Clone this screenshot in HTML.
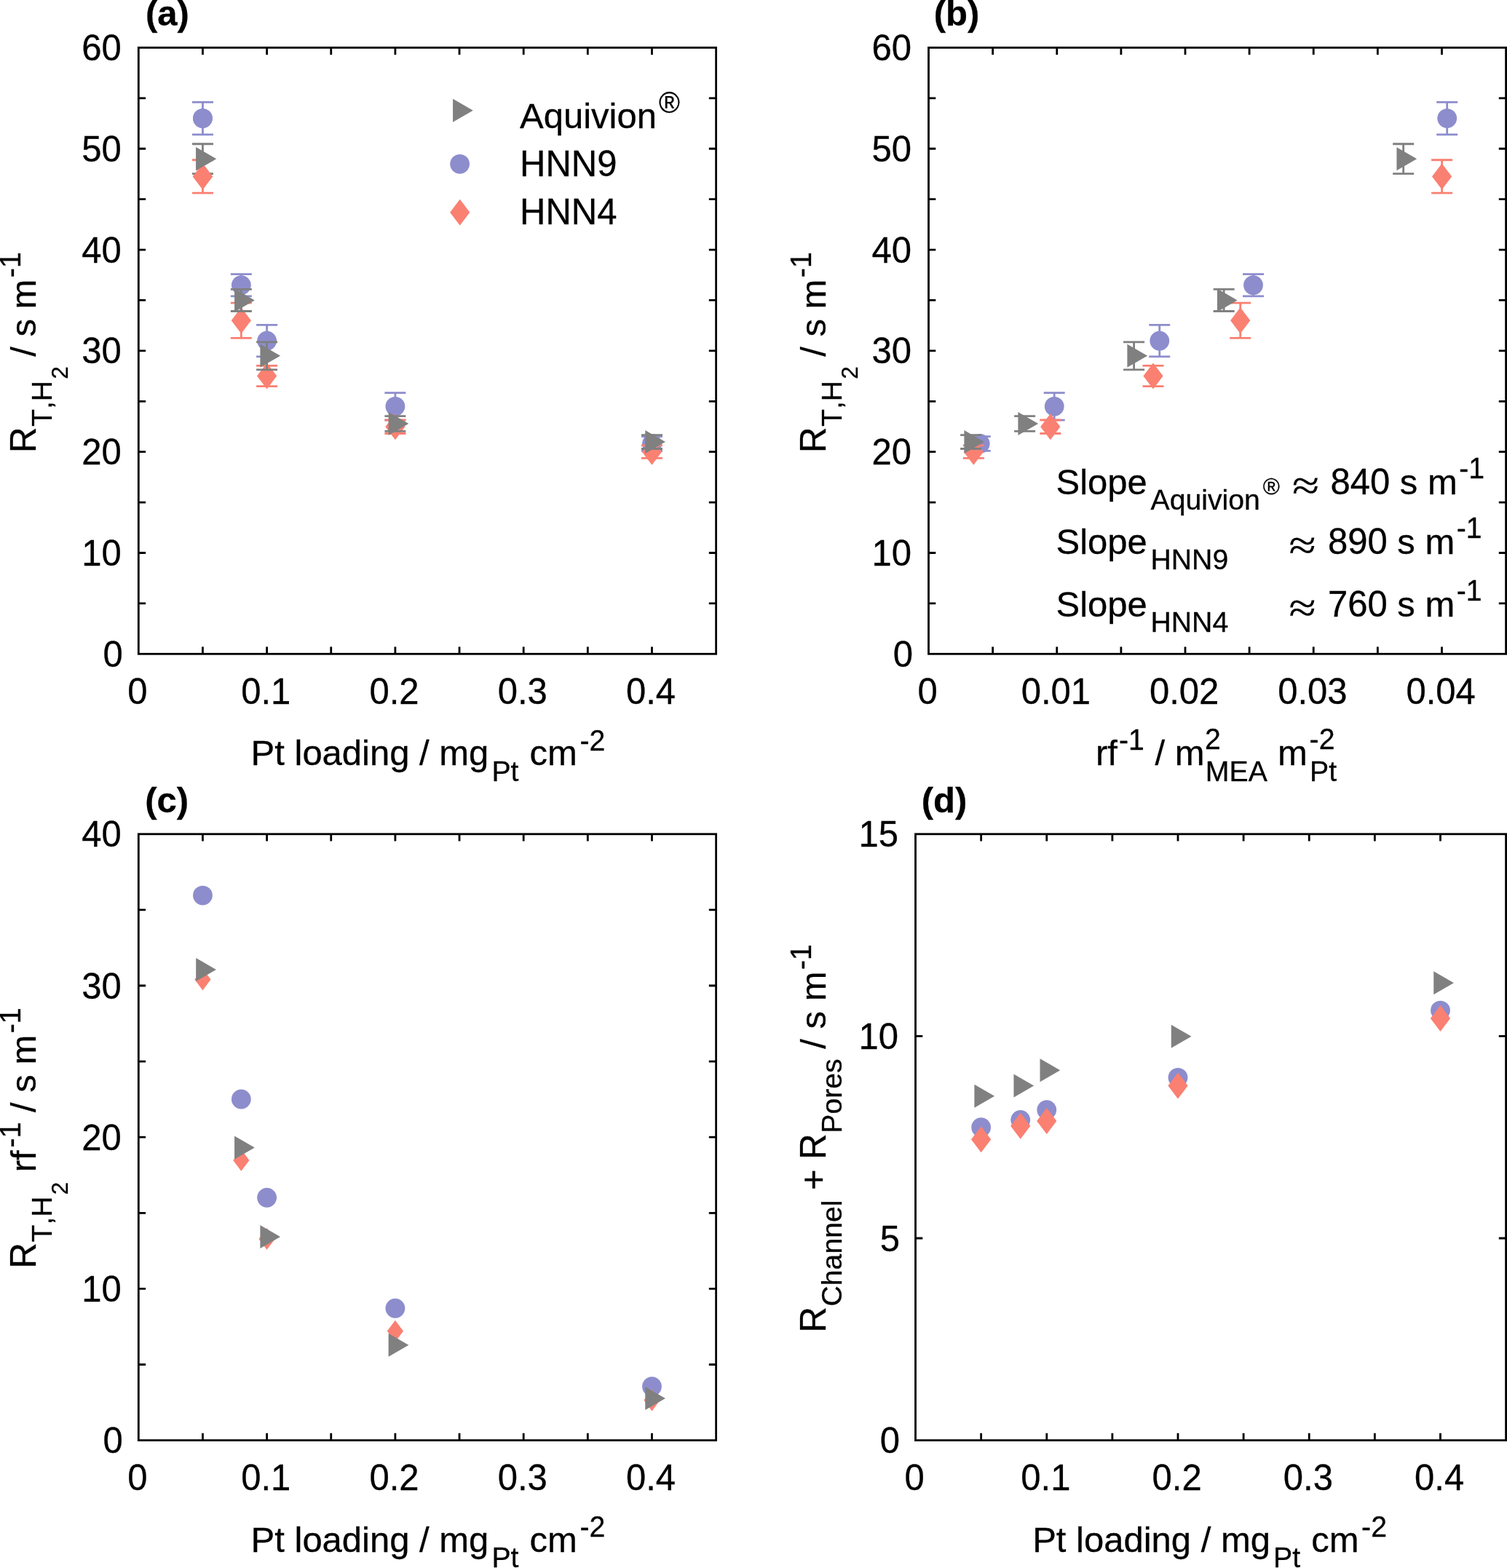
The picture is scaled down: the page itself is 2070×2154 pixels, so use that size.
<!DOCTYPE html>
<html lang="en">
<head>
<meta charset="utf-8">
<title>Figure</title>
<style>
html,body{margin:0;padding:0;background:#fff;}
body{width:2070px;height:2154px;overflow:hidden;}
svg{display:block;}
text{white-space:pre;font-kerning:none;stroke:#000;stroke-width:0.3px;}
</style>
</head>
<body>
<svg width="2070" height="2154" viewBox="0 0 2070 2154" font-family='"Liberation Sans", sans-serif' fill="#000">
<rect width="2070" height="2154" fill="#fff"/>
<g id="panel-a">
<path d="M278.44 898.3V888.5M278.44 65.45V75.25M366.59 898.3V888.5M366.59 65.45V75.25M454.73 898.3V888.5M454.73 65.45V75.25M542.88 898.3V888.5M542.88 65.45V75.25M631.02 898.3V888.5M631.02 65.45V75.25M719.17 898.3V888.5M719.17 65.45V75.25M807.31 898.3V888.5M807.31 65.45V75.25M895.46 898.3V888.5M895.46 65.45V75.25M190.3 828.9H200.1M983.6 828.9H973.8M190.3 759.49H200.1M983.6 759.49H973.8M190.3 690.09H200.1M983.6 690.09H973.8M190.3 620.68H200.1M983.6 620.68H973.8M190.3 551.28H200.1M983.6 551.28H973.8M190.3 481.88H200.1M983.6 481.88H973.8M190.3 412.47H200.1M983.6 412.47H973.8M190.3 343.07H200.1M983.6 343.07H973.8M190.3 273.66H200.1M983.6 273.66H973.8M190.3 204.26H200.1M983.6 204.26H973.8M190.3 134.85H200.1M983.6 134.85H973.8" stroke="#000" stroke-width="2.8" fill="none"/>
<rect x="190.3" y="65.45" width="793.3" height="832.85" stroke="#000" stroke-width="2.8" fill="none"/>
<path d="M278.44 140.35V184.85M263.94 140.35H292.94M263.94 184.85H292.94" stroke="#8d8dcd" stroke-width="2.8" fill="none"/>
<circle cx="278.44" cy="162.6" r="13.4" fill="#8d8dcd"/>
<path d="M278.44 219.75V265.05M263.94 219.75H292.94M263.94 265.05H292.94" stroke="#fa8072" stroke-width="2.8" fill="none"/>
<path d="M278.44 224.4L292.04 242.4L278.44 260.4L264.84 242.4Z" fill="#fa8072"/>
<path d="M278.44 197.75V238.65M263.94 197.75H292.94M263.94 238.65H292.94" stroke="#808080" stroke-width="2.8" fill="none"/>
<path d="M269.21 202.2L296.92 218.2L269.21 234.2Z" fill="#808080"/>
<path d="M331.33 376.6V406.8M316.83 376.6H345.83M316.83 406.8H345.83" stroke="#8d8dcd" stroke-width="2.8" fill="none"/>
<circle cx="331.33" cy="391.7" r="13.4" fill="#8d8dcd"/>
<path d="M331.33 416.05V464.45M316.83 416.05H345.83M316.83 464.45H345.83" stroke="#fa8072" stroke-width="2.8" fill="none"/>
<path d="M331.33 422.25L344.93 440.25L331.33 458.25L317.73 440.25Z" fill="#fa8072"/>
<path d="M331.33 397.3V427.5M316.83 397.3H345.83M316.83 427.5H345.83" stroke="#808080" stroke-width="2.8" fill="none"/>
<path d="M322.09 396.4L349.81 412.4L322.09 428.4Z" fill="#808080"/>
<path d="M366.59 446.4V489.9M352.09 446.4H381.09M352.09 489.9H381.09" stroke="#8d8dcd" stroke-width="2.8" fill="none"/>
<circle cx="366.59" cy="468.15" r="13.4" fill="#8d8dcd"/>
<path d="M366.59 502.4V530.7M352.09 502.4H381.09M352.09 530.7H381.09" stroke="#fa8072" stroke-width="2.8" fill="none"/>
<path d="M366.59 498.55L380.19 516.55L366.59 534.55L352.99 516.55Z" fill="#fa8072"/>
<path d="M366.59 469.8V507.8M352.09 469.8H381.09M352.09 507.8H381.09" stroke="#808080" stroke-width="2.8" fill="none"/>
<path d="M357.35 472.8L385.06 488.8L357.35 504.8Z" fill="#808080"/>
<path d="M542.88 539.6V577.1M528.38 539.6H557.38M528.38 577.1H557.38" stroke="#8d8dcd" stroke-width="2.8" fill="none"/>
<circle cx="542.88" cy="558.35" r="13.4" fill="#8d8dcd"/>
<path d="M542.88 577V595.5M528.38 577H557.38M528.38 595.5H557.38" stroke="#fa8072" stroke-width="2.8" fill="none"/>
<path d="M542.88 568.25L556.48 586.25L542.88 604.25L529.28 586.25Z" fill="#fa8072"/>
<path d="M542.88 571.6V592.4M528.38 571.6H557.38M528.38 592.4H557.38" stroke="#808080" stroke-width="2.8" fill="none"/>
<path d="M533.64 566L561.35 582L533.64 598Z" fill="#808080"/>
<path d="M895.46 599.6V619.4M880.96 599.6H909.96M880.96 619.4H909.96" stroke="#8d8dcd" stroke-width="2.8" fill="none"/>
<circle cx="895.46" cy="609.5" r="13.4" fill="#8d8dcd"/>
<path d="M895.46 611.9V629.4M880.96 611.9H909.96M880.96 629.4H909.96" stroke="#fa8072" stroke-width="2.8" fill="none"/>
<path d="M895.46 602.65L909.06 620.65L895.46 638.65L881.86 620.65Z" fill="#fa8072"/>
<path d="M895.46 597.6V616.5M880.96 597.6H909.96M880.96 616.5H909.96" stroke="#808080" stroke-width="2.8" fill="none"/>
<path d="M886.22 591.05L913.93 607.05L886.22 623.05Z" fill="#808080"/>
<circle cx="278.44" cy="162.6" r="13.4" fill="#8d8dcd"/>
<path d="M278.44 224.4L292.04 242.4L278.44 260.4L264.84 242.4Z" fill="#fa8072"/>
<path d="M269.21 202.2L296.92 218.2L269.21 234.2Z" fill="#808080"/>
<text transform="translate(188.9,967.1) scale(1,1.02)" font-size="49" text-anchor="middle">0</text>
<text transform="translate(365.19,967.1) scale(1,1.02)" font-size="49" text-anchor="middle">0.1</text>
<text transform="translate(541.48,967.1) scale(1,1.02)" font-size="49" text-anchor="middle">0.2</text>
<text transform="translate(717.77,967.1) scale(1,1.02)" font-size="49" text-anchor="middle">0.3</text>
<text transform="translate(894.06,967.1) scale(1,1.02)" font-size="49" text-anchor="middle">0.4</text>
<text transform="translate(168.8,915.8) scale(1,1.02)" font-size="49" text-anchor="end">0</text>
<text transform="translate(166.8,776.99) scale(1,1.02)" font-size="49" text-anchor="end">10</text>
<text transform="translate(166.8,638.18) scale(1,1.02)" font-size="49" text-anchor="end">20</text>
<text transform="translate(166.8,499.38) scale(1,1.02)" font-size="49" text-anchor="end">30</text>
<text transform="translate(166.8,360.57) scale(1,1.02)" font-size="49" text-anchor="end">40</text>
<text transform="translate(166.8,221.76) scale(1,1.02)" font-size="49" text-anchor="end">50</text>
<text transform="translate(166.8,82.95) scale(1,1.02)" font-size="49" text-anchor="end">60</text>
<text transform="translate(199.9,35) scale(1,1)" font-size="49" font-weight="bold">(a)</text>
<path d="M622.06 135.8L649.78 151.8L622.06 167.8Z" fill="#808080"/>
<circle cx="631.6" cy="225.35" r="13.4" fill="#8d8dcd"/>
<path d="M631.7 273.75L645.3 291.75L631.7 309.75L618.1 291.75Z" fill="#fa8072"/>
<g><text transform="translate(714,175.6) scale(1,0.98)" font-size="49">Aquivion</text><text transform="translate(904.96,155.1) scale(1,1.02)" font-size="39.2">®</text></g>
<text transform="translate(714,241.8) scale(1,1.012)" font-size="49">HNN9</text>
<text transform="translate(714,308.3) scale(1,1.012)" font-size="49">HNN4</text>
<g><text transform="translate(344.6,1051.3) scale(1,0.98)" font-size="49">Pt loading / mg</text><text transform="translate(675.45,1072.6) scale(1,1)" font-size="39.2">Pt</text><text transform="translate(713.99,1051.3) scale(1,0.97)" font-size="49"> cm</text><text transform="translate(796.52,1030.6) scale(1,1.02)" font-size="39.2">-2</text></g>
<g transform="translate(48.75,622) rotate(-90)"><text transform="translate(0,0) scale(1,1.012)" font-size="49">R</text><text transform="translate(35.99,22) scale(1,1.012)" font-size="39.2">T,H</text><text transform="translate(101.13,43.8) scale(1,1.02)" font-size="31.36">2</text><text transform="translate(118.57,0) scale(1,0.97)" font-size="49"> / s m</text><text transform="translate(240.84,-20.5) scale(1,1.02)" font-size="39.2">-1</text></g>
</g>
<g id="panel-b">
<path d="M1363.62 898.3V888.5M1363.62 65.45V75.25M1451.74 898.3V888.5M1451.74 65.45V75.25M1539.87 898.3V888.5M1539.87 65.45V75.25M1627.99 898.3V888.5M1627.99 65.45V75.25M1716.11 898.3V888.5M1716.11 65.45V75.25M1804.23 898.3V888.5M1804.23 65.45V75.25M1892.36 898.3V888.5M1892.36 65.45V75.25M1980.48 898.3V888.5M1980.48 65.45V75.25M1275.5 828.9H1285.3M2068.6 828.9H2058.8M1275.5 759.49H1285.3M2068.6 759.49H2058.8M1275.5 690.09H1285.3M2068.6 690.09H2058.8M1275.5 620.68H1285.3M2068.6 620.68H2058.8M1275.5 551.28H1285.3M2068.6 551.28H2058.8M1275.5 481.88H1285.3M2068.6 481.88H2058.8M1275.5 412.47H1285.3M2068.6 412.47H2058.8M1275.5 343.07H1285.3M2068.6 343.07H2058.8M1275.5 273.66H1285.3M2068.6 273.66H2058.8M1275.5 204.26H1285.3M2068.6 204.26H2058.8M1275.5 134.85H1285.3M2068.6 134.85H2058.8" stroke="#000" stroke-width="2.8" fill="none"/>
<rect x="1275.5" y="65.45" width="793.1" height="832.85" stroke="#000" stroke-width="2.8" fill="none"/>
<path d="M1987.7 140.35V184.85M1973.2 140.35H2002.2M1973.2 184.85H2002.2" stroke="#8d8dcd" stroke-width="2.8" fill="none"/>
<circle cx="1987.7" cy="162.6" r="13.4" fill="#8d8dcd"/>
<path d="M1980.6 219.75V265.05M1966.1 219.75H1995.1M1966.1 265.05H1995.1" stroke="#fa8072" stroke-width="2.8" fill="none"/>
<path d="M1980.6 224.4L1994.2 242.4L1980.6 260.4L1967 242.4Z" fill="#fa8072"/>
<path d="M1927.67 197.75V238.65M1913.17 197.75H1942.17M1913.17 238.65H1942.17" stroke="#808080" stroke-width="2.8" fill="none"/>
<path d="M1918.43 202.2L1946.15 218.2L1918.43 234.2Z" fill="#808080"/>
<path d="M1721.5 376.6V406.8M1707 376.6H1736M1707 406.8H1736" stroke="#8d8dcd" stroke-width="2.8" fill="none"/>
<circle cx="1721.5" cy="391.7" r="13.4" fill="#8d8dcd"/>
<path d="M1703.7 416.05V464.45M1689.2 416.05H1718.2M1689.2 464.45H1718.2" stroke="#fa8072" stroke-width="2.8" fill="none"/>
<path d="M1703.7 422.25L1717.3 440.25L1703.7 458.25L1690.1 440.25Z" fill="#fa8072"/>
<path d="M1681.15 397.3V427.5M1666.65 397.3H1695.65M1666.65 427.5H1695.65" stroke="#808080" stroke-width="2.8" fill="none"/>
<path d="M1671.91 396.4L1699.63 412.4L1671.91 428.4Z" fill="#808080"/>
<path d="M1592.75 446.4V489.9M1578.25 446.4H1607.25M1578.25 489.9H1607.25" stroke="#8d8dcd" stroke-width="2.8" fill="none"/>
<circle cx="1592.75" cy="468.15" r="13.4" fill="#8d8dcd"/>
<path d="M1584 502.4V530.7M1569.5 502.4H1598.5M1569.5 530.7H1598.5" stroke="#fa8072" stroke-width="2.8" fill="none"/>
<path d="M1584 498.55L1597.6 516.55L1584 534.55L1570.4 516.55Z" fill="#fa8072"/>
<path d="M1557.6 469.8V507.8M1543.1 469.8H1572.1M1543.1 507.8H1572.1" stroke="#808080" stroke-width="2.8" fill="none"/>
<path d="M1548.36 472.8L1576.08 488.8L1548.36 504.8Z" fill="#808080"/>
<path d="M1448.2 539.6V577.1M1433.7 539.6H1462.7M1433.7 577.1H1462.7" stroke="#8d8dcd" stroke-width="2.8" fill="none"/>
<circle cx="1448.2" cy="558.35" r="13.4" fill="#8d8dcd"/>
<path d="M1442.8 577V595.5M1428.3 577H1457.3M1428.3 595.5H1457.3" stroke="#fa8072" stroke-width="2.8" fill="none"/>
<path d="M1442.8 568.25L1456.4 586.25L1442.8 604.25L1429.2 586.25Z" fill="#fa8072"/>
<path d="M1407.6 571.6V592.4M1393.1 571.6H1422.1M1393.1 592.4H1422.1" stroke="#808080" stroke-width="2.8" fill="none"/>
<path d="M1398.36 566L1426.08 582L1398.36 598Z" fill="#808080"/>
<path d="M1346.2 599.6V619.4M1331.7 599.6H1360.7M1331.7 619.4H1360.7" stroke="#8d8dcd" stroke-width="2.8" fill="none"/>
<circle cx="1346.2" cy="609.5" r="13.4" fill="#8d8dcd"/>
<path d="M1337.3 611.9V629.4M1322.8 611.9H1351.8M1322.8 629.4H1351.8" stroke="#fa8072" stroke-width="2.8" fill="none"/>
<path d="M1337.3 602.65L1350.9 620.65L1337.3 638.65L1323.7 620.65Z" fill="#fa8072"/>
<path d="M1333.6 597.6V616.5M1319.1 597.6H1348.1M1319.1 616.5H1348.1" stroke="#808080" stroke-width="2.8" fill="none"/>
<path d="M1324.36 591.05L1352.08 607.05L1324.36 623.05Z" fill="#808080"/>
<text transform="translate(1274.1,967.1) scale(1,1.02)" font-size="49" text-anchor="middle">0</text>
<text transform="translate(1450.34,967.1) scale(1,1.02)" font-size="49" text-anchor="middle">0.01</text>
<text transform="translate(1626.59,967.1) scale(1,1.02)" font-size="49" text-anchor="middle">0.02</text>
<text transform="translate(1802.83,967.1) scale(1,1.02)" font-size="49" text-anchor="middle">0.03</text>
<text transform="translate(1979.08,967.1) scale(1,1.02)" font-size="49" text-anchor="middle">0.04</text>
<text transform="translate(1254,915.8) scale(1,1.02)" font-size="49" text-anchor="end">0</text>
<text transform="translate(1252,776.99) scale(1,1.02)" font-size="49" text-anchor="end">10</text>
<text transform="translate(1252,638.18) scale(1,1.02)" font-size="49" text-anchor="end">20</text>
<text transform="translate(1252,499.38) scale(1,1.02)" font-size="49" text-anchor="end">30</text>
<text transform="translate(1252,360.57) scale(1,1.02)" font-size="49" text-anchor="end">40</text>
<text transform="translate(1252,221.76) scale(1,1.02)" font-size="49" text-anchor="end">50</text>
<text transform="translate(1252,82.95) scale(1,1.02)" font-size="49" text-anchor="end">60</text>
<text transform="translate(1282.7,35) scale(1,1)" font-size="49" font-weight="bold">(b)</text>
<g transform="translate(1134.1,622) rotate(-90)"><text transform="translate(0,0) scale(1,1.012)" font-size="49">R</text><text transform="translate(35.99,22) scale(1,1.012)" font-size="39.2">T,H</text><text transform="translate(101.13,43.8) scale(1,1.02)" font-size="31.36">2</text><text transform="translate(118.57,0) scale(1,0.97)" font-size="49"> / s m</text><text transform="translate(240.84,-20.5) scale(1,1.02)" font-size="39.2">-1</text></g>
<g><text transform="translate(1505,1051.3) scale(1,0.97)" font-size="49">rf</text><text transform="translate(1536.93,1029.8) scale(1,1.02)" font-size="39.2">-1</text><text transform="translate(1572.79,1051.3) scale(1,0.97)" font-size="49"> / m</text><text transform="translate(1655.04,1029.3) scale(1,1.02)" font-size="39.2">2</text><text transform="translate(1655.85,1072.6) scale(1,1.012)" font-size="39.2">MEA</text><text transform="translate(1741.39,1051.3) scale(1,0.97)" font-size="49"> m</text><text transform="translate(1798.62,1029.3) scale(1,1.02)" font-size="39.2">-2</text><text transform="translate(1799.08,1072.6) scale(1,1)" font-size="39.2">Pt</text></g>
<g><text transform="translate(1450.5,678.5) scale(1,0.98)" font-size="49">Slope</text><text transform="translate(1580.52,699.8) scale(1,0.98)" font-size="39.2">Aquivion</text><text transform="translate(1734.79,678.5) scale(1,1.02)" font-size="31.36">®</text></g>
<text transform="translate(1775,685.5) scale(1,0.843)" font-size="67.7" font-family='"Liberation Serif", serif'>≈</text>
<g><text transform="translate(1827.5,678.5) scale(1,1.02)" font-size="49">840</text><text transform="translate(1909.25,678.5) scale(1,0.97)" font-size="49"> s m</text><text transform="translate(2004.3,657.1) scale(1,1.02)" font-size="39.2">-1</text></g>
<g><text transform="translate(1450.5,760.7) scale(1,0.98)" font-size="49">Slope</text><text transform="translate(1580.52,782) scale(1,1.012)" font-size="39.2">HNN9</text></g>
<text transform="translate(1770.5,767.7) scale(1,0.843)" font-size="67.7" font-family='"Liberation Serif", serif'>≈</text>
<g><text transform="translate(1824,760.7) scale(1,1.02)" font-size="49">890</text><text transform="translate(1905.75,760.7) scale(1,0.97)" font-size="49"> s m</text><text transform="translate(2000.8,739.3) scale(1,1.02)" font-size="39.2">-1</text></g>
<g><text transform="translate(1450.5,846.6) scale(1,0.98)" font-size="49">Slope</text><text transform="translate(1580.52,867.9) scale(1,1.012)" font-size="39.2">HNN4</text></g>
<text transform="translate(1770.5,853.6) scale(1,0.843)" font-size="67.7" font-family='"Liberation Serif", serif'>≈</text>
<g><text transform="translate(1824,846.6) scale(1,1.02)" font-size="49">760</text><text transform="translate(1905.75,846.6) scale(1,0.97)" font-size="49"> s m</text><text transform="translate(2000.8,825.2) scale(1,1.02)" font-size="39.2">-1</text></g>
</g>
<g id="panel-c">
<path d="M278.44 1978.6V1968.8M278.44 1145.8V1155.6M366.59 1978.6V1968.8M366.59 1145.8V1155.6M454.73 1978.6V1968.8M454.73 1145.8V1155.6M542.88 1978.6V1968.8M542.88 1145.8V1155.6M631.02 1978.6V1968.8M631.02 1145.8V1155.6M719.17 1978.6V1968.8M719.17 1145.8V1155.6M807.31 1978.6V1968.8M807.31 1145.8V1155.6M895.46 1978.6V1968.8M895.46 1145.8V1155.6M190.3 1874.5H200.1M983.6 1874.5H973.8M190.3 1770.4H200.1M983.6 1770.4H973.8M190.3 1666.3H200.1M983.6 1666.3H973.8M190.3 1562.2H200.1M983.6 1562.2H973.8M190.3 1458.1H200.1M983.6 1458.1H973.8M190.3 1354H200.1M983.6 1354H973.8M190.3 1249.9H200.1M983.6 1249.9H973.8" stroke="#000" stroke-width="2.8" fill="none"/>
<rect x="190.3" y="1145.8" width="793.3" height="832.8" stroke="#000" stroke-width="2.8" fill="none"/>
<circle cx="278.44" cy="1230.1" r="13.4" fill="#8d8dcd"/>
<path d="M278.44 1330.8L289.54 1345.6L278.44 1360.4L267.34 1345.6Z" fill="#fa8072"/>
<path d="M269.21 1315.9L296.92 1331.9L269.21 1347.9Z" fill="#808080"/>
<circle cx="331.33" cy="1510" r="13.4" fill="#8d8dcd"/>
<path d="M331.33 1579.1L342.43 1593.9L331.33 1608.7L320.23 1593.9Z" fill="#fa8072"/>
<path d="M322.09 1560.5L349.81 1576.5L322.09 1592.5Z" fill="#808080"/>
<circle cx="366.59" cy="1645.25" r="13.4" fill="#8d8dcd"/>
<path d="M366.59 1687.1L377.69 1701.9L366.59 1716.7L355.49 1701.9Z" fill="#fa8072"/>
<path d="M357.35 1683L385.06 1699L357.35 1715Z" fill="#808080"/>
<circle cx="542.88" cy="1797.25" r="13.4" fill="#8d8dcd"/>
<path d="M542.88 1813.8L553.98 1828.6L542.88 1843.4L531.78 1828.6Z" fill="#fa8072"/>
<path d="M533.64 1831.75L561.35 1847.75L533.64 1863.75Z" fill="#808080"/>
<circle cx="895.46" cy="1904.7" r="13.4" fill="#8d8dcd"/>
<path d="M895.46 1908.8L906.56 1923.6L895.46 1938.4L884.36 1923.6Z" fill="#fa8072"/>
<path d="M886.22 1904.9L913.93 1920.9L886.22 1936.9Z" fill="#808080"/>
<text transform="translate(188.9,2047.4) scale(1,1.02)" font-size="49" text-anchor="middle">0</text>
<text transform="translate(365.19,2047.4) scale(1,1.02)" font-size="49" text-anchor="middle">0.1</text>
<text transform="translate(541.48,2047.4) scale(1,1.02)" font-size="49" text-anchor="middle">0.2</text>
<text transform="translate(717.77,2047.4) scale(1,1.02)" font-size="49" text-anchor="middle">0.3</text>
<text transform="translate(894.06,2047.4) scale(1,1.02)" font-size="49" text-anchor="middle">0.4</text>
<text transform="translate(168.8,1996.1) scale(1,1.02)" font-size="49" text-anchor="end">0</text>
<text transform="translate(166.8,1787.9) scale(1,1.02)" font-size="49" text-anchor="end">10</text>
<text transform="translate(166.8,1579.7) scale(1,1.02)" font-size="49" text-anchor="end">20</text>
<text transform="translate(166.8,1371.5) scale(1,1.02)" font-size="49" text-anchor="end">30</text>
<text transform="translate(166.8,1163.3) scale(1,1.02)" font-size="49" text-anchor="end">40</text>
<text transform="translate(199.25,1116.25) scale(1,1)" font-size="49" font-weight="bold">(c)</text>
<g><text transform="translate(344.6,2131.6) scale(1,0.98)" font-size="49">Pt loading / mg</text><text transform="translate(675.45,2152.9) scale(1,1)" font-size="39.2">Pt</text><text transform="translate(713.99,2131.6) scale(1,0.97)" font-size="49"> cm</text><text transform="translate(796.52,2110.9) scale(1,1.02)" font-size="39.2">-2</text></g>
<g transform="translate(48.75,1742.5) rotate(-90)"><text transform="translate(0,0) scale(1,1.012)" font-size="49">R</text><text transform="translate(35.99,22) scale(1,1.012)" font-size="39.2">T,H</text><text transform="translate(101.13,43.8) scale(1,1.02)" font-size="31.36">2</text><text transform="translate(118.57,0) scale(1,0.97)" font-size="49"> rf</text><text transform="translate(166.12,-20.5) scale(1,1.02)" font-size="39.2">-1</text><text transform="translate(200.97,0) scale(1,0.97)" font-size="49"> / s m</text><text transform="translate(323.24,-20.5) scale(1,1.02)" font-size="39.2">-1</text></g>
</g>
<g id="panel-d">
<path d="M1347.62 1978.6V1968.8M1347.62 1145.8V1155.6M1437.74 1978.6V1968.8M1437.74 1145.8V1155.6M1527.87 1978.6V1968.8M1527.87 1145.8V1155.6M1617.99 1978.6V1968.8M1617.99 1145.8V1155.6M1708.11 1978.6V1968.8M1708.11 1145.8V1155.6M1798.23 1978.6V1968.8M1798.23 1145.8V1155.6M1888.36 1978.6V1968.8M1888.36 1145.8V1155.6M1978.48 1978.6V1968.8M1978.48 1145.8V1155.6M1257.5 1701H1267.3M2068.6 1701H2058.8M1257.5 1423.4H1267.3M2068.6 1423.4H2058.8" stroke="#000" stroke-width="2.8" fill="none"/>
<rect x="1257.5" y="1145.8" width="811.1" height="832.8" stroke="#000" stroke-width="2.8" fill="none"/>
<circle cx="1347.62" cy="1548.7" r="13.4" fill="#8d8dcd"/>
<path d="M1347.62 1547.3L1361.22 1565.3L1347.62 1583.3L1334.02 1565.3Z" fill="#fa8072"/>
<path d="M1338.38 1489.8L1366.1 1505.8L1338.38 1521.8Z" fill="#808080"/>
<circle cx="1401.7" cy="1538.4" r="13.4" fill="#8d8dcd"/>
<path d="M1401.7 1528.75L1415.3 1546.75L1401.7 1564.75L1388.1 1546.75Z" fill="#fa8072"/>
<path d="M1392.46 1475.4L1420.17 1491.4L1392.46 1507.4Z" fill="#808080"/>
<circle cx="1437.74" cy="1524.65" r="13.4" fill="#8d8dcd"/>
<path d="M1437.74 1521.98L1451.34 1539.98L1437.74 1557.98L1424.14 1539.98Z" fill="#fa8072"/>
<path d="M1428.51 1454.3L1456.22 1470.3L1428.51 1486.3Z" fill="#808080"/>
<circle cx="1617.99" cy="1480.3" r="13.4" fill="#8d8dcd"/>
<path d="M1617.99 1473.4L1631.59 1491.4L1617.99 1509.4L1604.39 1491.4Z" fill="#fa8072"/>
<path d="M1608.75 1407.85L1636.46 1423.85L1608.75 1439.85Z" fill="#808080"/>
<circle cx="1978.48" cy="1388.1" r="13.4" fill="#8d8dcd"/>
<path d="M1978.48 1381.05L1992.08 1399.05L1978.48 1417.05L1964.88 1399.05Z" fill="#fa8072"/>
<path d="M1969.24 1334.3L1996.95 1350.3L1969.24 1366.3Z" fill="#808080"/>
<text transform="translate(1256.1,2047.4) scale(1,1.02)" font-size="49" text-anchor="middle">0</text>
<text transform="translate(1436.34,2047.4) scale(1,1.02)" font-size="49" text-anchor="middle">0.1</text>
<text transform="translate(1616.59,2047.4) scale(1,1.02)" font-size="49" text-anchor="middle">0.2</text>
<text transform="translate(1796.83,2047.4) scale(1,1.02)" font-size="49" text-anchor="middle">0.3</text>
<text transform="translate(1977.08,2047.4) scale(1,1.02)" font-size="49" text-anchor="middle">0.4</text>
<text transform="translate(1236,1996.1) scale(1,1.02)" font-size="49" text-anchor="end">0</text>
<text transform="translate(1236,1718.5) scale(1,1.02)" font-size="49" text-anchor="end">5</text>
<text transform="translate(1234,1440.9) scale(1,1.02)" font-size="49" text-anchor="end">10</text>
<text transform="translate(1234,1163.3) scale(1,1.02)" font-size="49" text-anchor="end">15</text>
<text transform="translate(1265.7,1116.2) scale(1,1)" font-size="49" font-weight="bold">(d)</text>
<g><text transform="translate(1418.2,2131.6) scale(1,0.98)" font-size="49">Pt loading / mg</text><text transform="translate(1749.05,2152.9) scale(1,1)" font-size="39.2">Pt</text><text transform="translate(1787.59,2131.6) scale(1,0.97)" font-size="49"> cm</text><text transform="translate(1870.12,2110.9) scale(1,1.02)" font-size="39.2">-2</text></g>
<g transform="translate(1134.4,1830.5) rotate(-90)"><text transform="translate(0,0) scale(1,1.012)" font-size="49">R</text><text transform="translate(35.99,21.5) scale(1,0.98)" font-size="39.2">Channel</text><text transform="translate(182.01,0) scale(1,1.012)" font-size="49"> + R</text><text transform="translate(273.84,21.5) scale(1,0.98)" font-size="39.2">Pores</text><text transform="translate(376.24,0) scale(1,0.97)" font-size="49"> / s m</text><text transform="translate(498.51,-20.5) scale(1,1.02)" font-size="39.2">-1</text></g>
</g>
</svg>
</body>
</html>
